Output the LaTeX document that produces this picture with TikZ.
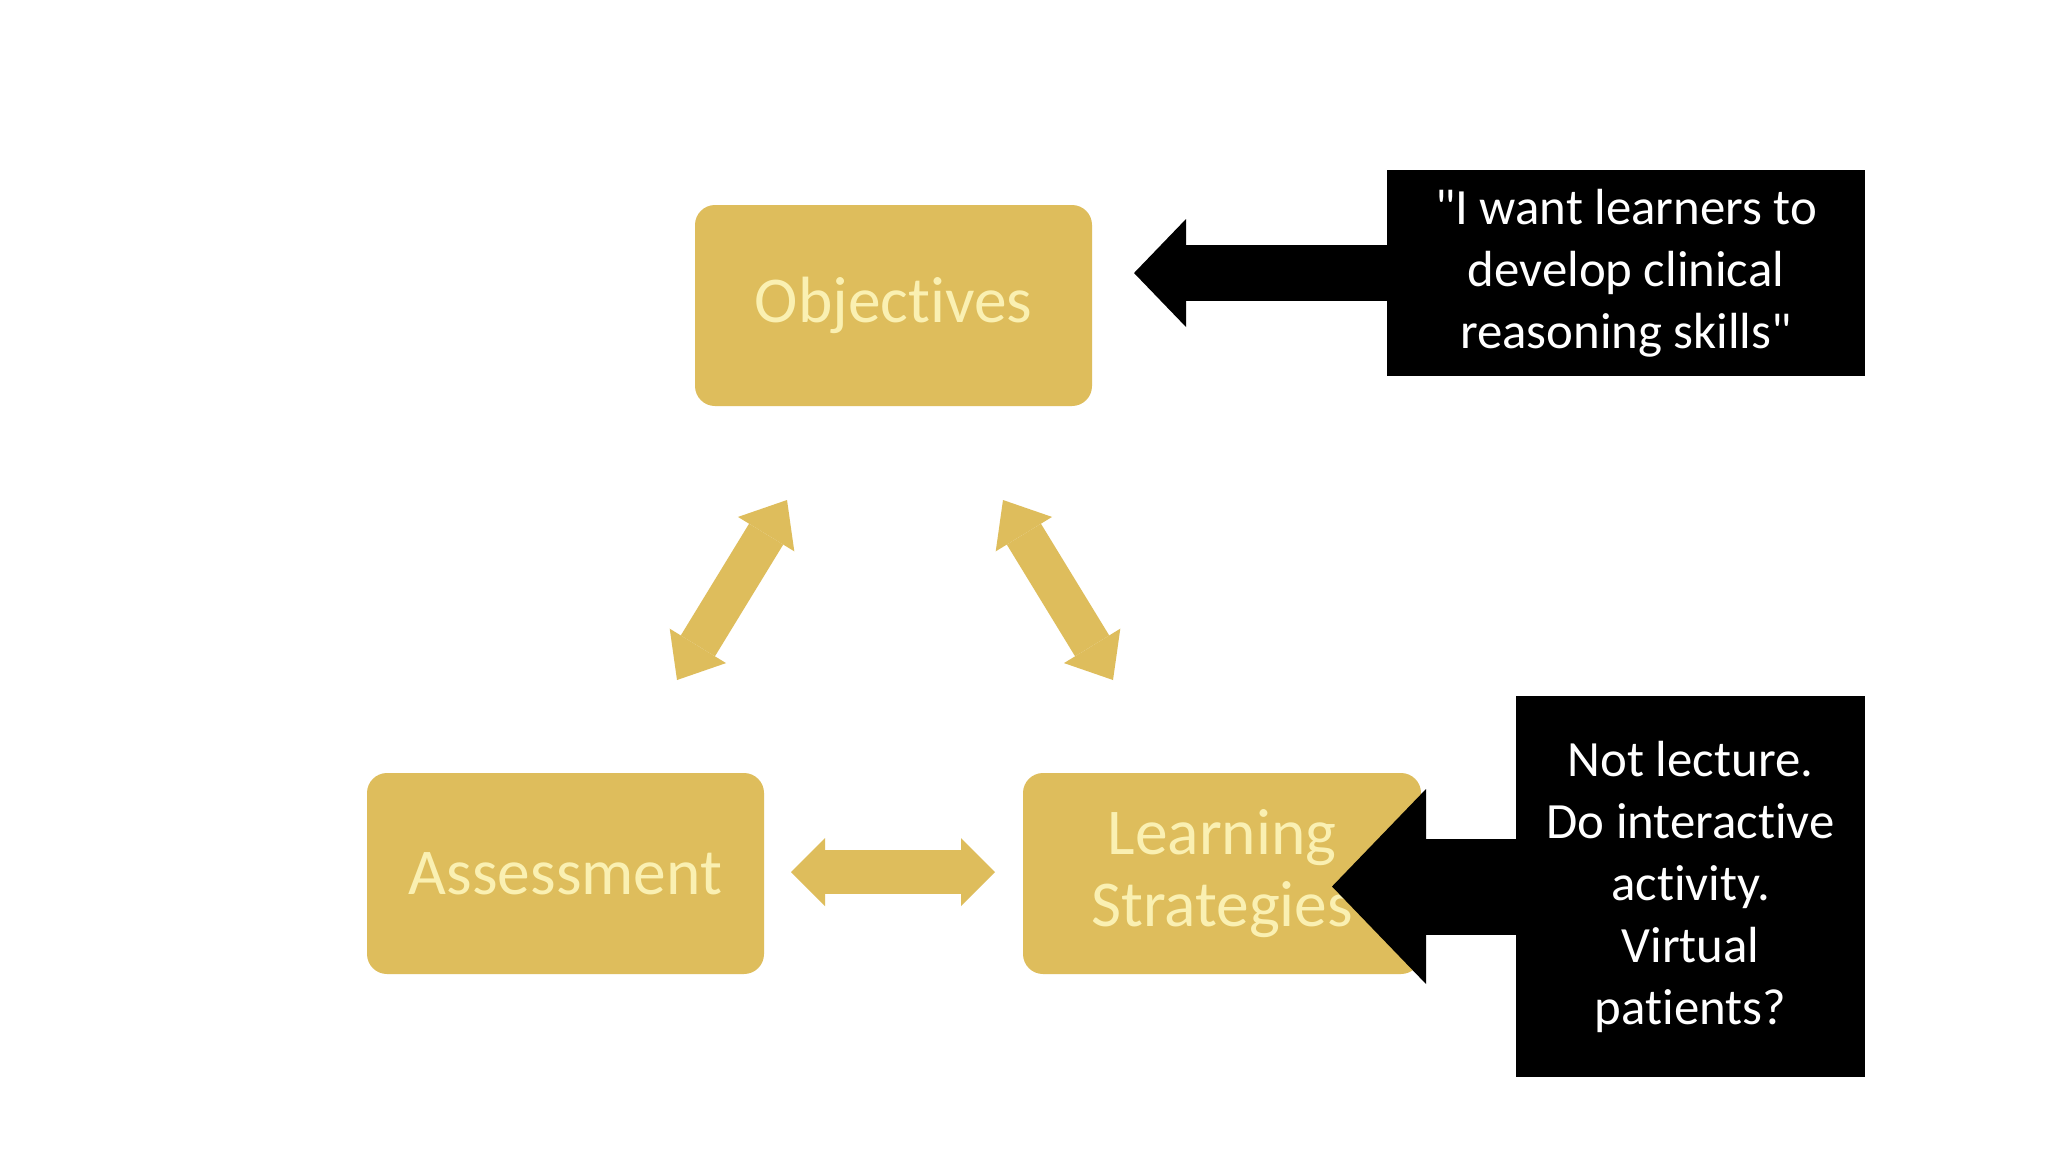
\documentclass[tikz,border=0pt]{standalone}
\usepackage{fontspec}
\setmainfont{Carlito}[Ligatures=NoCommon]
\newfontfamily\qfont{Carlito}[Ligatures=NoCommon]
\usetikzlibrary{arrows.meta}
\definecolor{gold}{RGB}{222,189,92}
\definecolor{cream}{RGB}{250,240,178}
\begin{document}
\begin{tikzpicture}[x=0.5pt,y=-0.5pt,
  goldbox/.style={rectangle, rounded corners=10pt, fill=gold, text=cream,
    minimum width=198.5pt, minimum height=100.5pt, align=center,
    font=\fontsize{32.7}{36}\selectfont, inner sep=0pt},
  quotebox/.style={rectangle, fill=black, text=white, align=center,
    font=\qfont\fontsize{25.4}{31}\selectfont, inner sep=0pt},
  goldarrow/.style={draw=gold, line width=20pt,
    {Triangle[width=33pt,length=20pt,line width=0pt]}-{Triangle[width=33pt,length=20pt,line width=0pt]}},
  goldharrow/.style={draw=gold, line width=22pt,
    {Triangle[width=34pt,length=17pt,line width=0pt]}-{Triangle[width=34pt,length=17pt,line width=0pt]}},
]
\fill[white] (0,0) rectangle (2048,1152);
\useasboundingbox (0,0) rectangle (2048,1152);

% boxes
\node[goldbox] (obj) at (893.5,305.5) {Objectives};
\node[goldbox] (ass) at (565.5,873.5) {Assessment};
\node[goldbox, minimum width=199pt] (ls) at (1222,873.5) {Learning\\Strategies};

\node[quotebox, minimum width=239pt, minimum height=103pt] (q1) at (1626,273)
  {"I want learners to\\develop clinical\\reasoning skills"};
\node[quotebox, minimum width=174.5pt, minimum height=190.5pt] (q2) at (1690.5,886.5)
  {Not lecture.\\Do interactive\\activity.\\Virtual\\patients?};

% gold double arrows
\coordinate (a1) at (677,680);
\coordinate (a2) at (787,500);
\coordinate (b1) at (1003,500);
\coordinate (b2) at (1113,680);
\coordinate (c1) at (791,872);
\coordinate (c2) at (995,872);
\draw[goldarrow] (a1) -- (a2);
\draw[goldarrow] (b1) -- (b2);
\draw[goldharrow] (c1) -- (c2);

% black arrows
\coordinate (t1) at (1134,273);
\coordinate (t2) at (1332,886.5);
\draw[line width=28pt, -{Triangle[width=54pt,length=26pt,line width=0pt]}] (q1.west) -- (t1);
\draw[line width=48pt, -{Triangle[width=97.5pt,length=47pt,line width=0pt]}] (q2.west) -- (t2);
\end{tikzpicture}
\end{document}
